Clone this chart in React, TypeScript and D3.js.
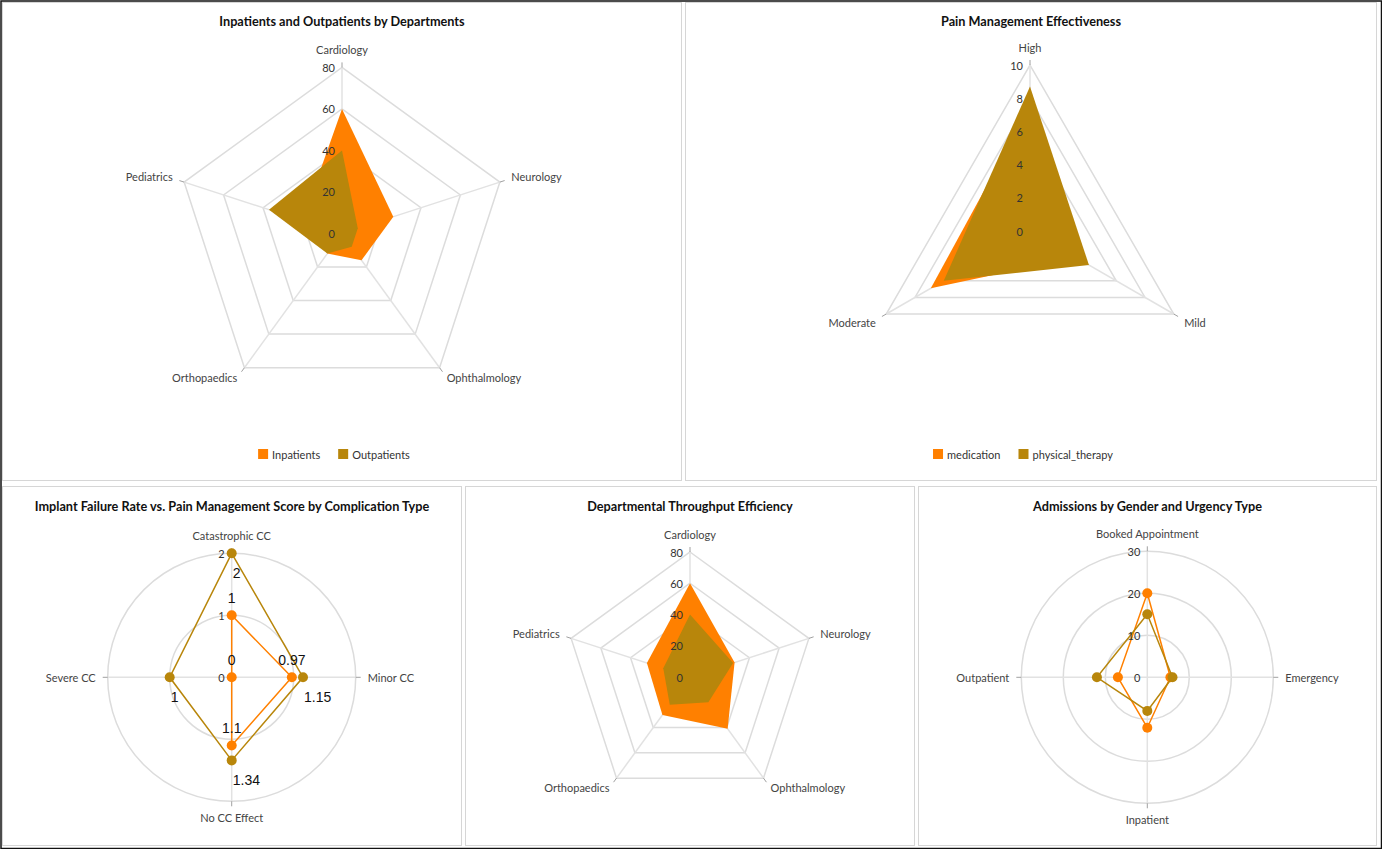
import React, { useEffect, useRef } from 'react';
import * as d3 from 'd3';

const W = 1382;
const H = 849;
const ORANGE = '#ff8000';
const OLIVE = '#b8860b';

// chart 1
const deptAxes = ['Cardiology', 'Neurology', 'Ophthalmology', 'Orthopaedics', 'Pediatrics'];
const inpatients = [60, 26, 16, 12, 20];
const outpatients = [40, 8, 8, 12, 37];
const deptTicks = [0, 20, 40, 60, 80];

// chart 2
const painAxes = ['High', 'Mild', 'Moderate'];
const medication = [7.5, 3.2, 6.9];
const physicalTherapy = [8.7, 4.1, 6.0];
const painTicks = [0, 2, 4, 6, 8, 10];

// chart 3
const complicationAxes = ['Catastrophic CC', 'Minor CC', 'No CC Effect', 'Severe CC'];
const implantFailure = [1, 0.97, 1.1, 0];
const painScore = [2, 1.15, 1.34, 1];
const complicationTicks = [0, 1, 2];

// chart 4
const throughputAxes = ['Cardiology', 'Neurology', 'Ophthalmology', 'Orthopaedics', 'Pediatrics'];
const throughputA = [60, 30, 41, 30, 29];
const throughputB = [40, 29, 20, 22, 18];

// chart 5
const urgencyAxes = ['Booked Appointment', 'Emergency', 'Inpatient', 'Outpatient'];
const admissionsA = [20, 5.5, 12, 7];
const admissionsB = [15, 6, 8, 12];
const urgencyTicks = [0, 10, 20, 30];

const FONT = 'Lato, "Open Sans", sans-serif';

const drawRadar = (root: any, o: any) => {
  const g = root.append('g').attr('transform', `translate(${o.cx},${o.cy})`);
  const n = o.axes.length;
  const ang = (i: number) => (i * 2 * Math.PI) / n;
  const r = d3.scaleLinear().domain([0, o.max]).range([0, o.R]);
  const px = (i: number, v: number) => r(v) * Math.sin(ang(i));
  const py = (i: number, v: number) => -r(v) * Math.cos(ang(i));

  // grid
  o.ticks.filter((t: number) => t > 0).forEach((t: number) => {
    if (o.circular) {
      g.append('circle').attr('r', r(t)).attr('fill', 'none')
        .attr('stroke', '#dcdcdc').attr('stroke-width', 1.5);
    } else {
      const ring = d3.lineRadial<string>()
        .angle((d, i) => ang(i))
        .radius(() => r(t))
        .curve(d3.curveLinearClosed);
      g.append('path').attr('d', ring(o.axes)).attr('fill', 'none')
        .attr('stroke', '#dcdcdc').attr('stroke-width', 1.5);
    }
  });

  // spokes + axis labels
  o.axes.forEach((a: string, i: number) => {
    g.append('line').attr('x1', 0).attr('y1', 0)
      .attr('x2', px(i, o.max)).attr('y2', py(i, o.max))
      .attr('stroke', '#e2e2e2').attr('stroke-width', 1.5);
    const s = Math.sin(ang(i));
    const c = Math.cos(ang(i));
    g.append('line')
      .attr('x1', (o.R) * s).attr('y1', -(o.R) * c)
      .attr('x2', (o.R + 5) * s).attr('y2', -(o.R + 5) * c)
      .attr('stroke', '#a0a0a0').attr('stroke-width', 1);
    const lr = c > 0.99 ? o.R + 13 : o.R + 12;
    const anchor = Math.abs(s) < 0.01 ? 'middle' : s > 0 ? 'start' : 'end';
    const base = c > 0.99 ? 'auto' : c < -0.99 ? 'hanging' : 'central';
    let shift = 0;
    if (base === 'central') {
      if (c > 0.01) shift = -1.5;
      else if (c < -0.01 && c > -0.7) shift = 2;
      else if (Math.abs(c) <= 0.01) shift = 0.5;
    }
    g.append('text')
      .attr('x', lr * s).attr('y', -lr * c + shift)
      .attr('text-anchor', anchor)
      .attr('dominant-baseline', base)
      .attr('font-size', 11).attr('fill', '#444')
      .text(a);
  });

  // series
  o.series.forEach((sr: any) => {
    const line = d3.lineRadial<number>()
      .angle((d, i) => ang(i))
      .radius((d) => r(d))
      .curve(d3.curveLinearClosed);
    if (sr.area) {
      g.append('path').attr('d', line(sr.values)).attr('fill', sr.color);
    } else {
      g.append('path').attr('d', line(sr.values)).attr('fill', 'none')
        .attr('stroke', sr.color).attr('stroke-width', 1.5);
      sr.values.forEach((v: number, i: number) => {
        g.append('circle').attr('cx', px(i, v)).attr('cy', py(i, v))
          .attr('r', 5).attr('fill', sr.color);
      });
    }
  });

  // tick labels
  o.ticks.forEach((t: number) => {
    g.append('text')
      .attr('x', -7).attr('y', -r(t))
      .attr('text-anchor', 'end')
      .attr('dominant-baseline', 'central')
      .attr('font-size', 11).attr('fill', '#333')
      .text(t);
  });

  // data labels
  o.series.forEach((sr: any) => {
    if (!sr.labels) return;
    sr.values.forEach((v: number, i: number) => {
      const x = px(i, v);
      const y = py(i, v);
      g.append('text')
        .attr('x', sr.labels === 'above' ? x : x + 1)
        .attr('y', sr.labels === 'above' ? y - 12 : y + 25)
        .attr('text-anchor', sr.labels === 'above' ? 'middle' : 'start')
        .attr('font-family', '"Liberation Sans", Arial, sans-serif')
        .attr('font-size', 14).attr('fill', '#111')
        .text(v);
    });
  });
};

const drawLegend = (root: any, cx: number, y: number, items: any[]) => {
  const g = root.append('g');
  let x = 0;
  items.forEach((it, k) => {
    g.append('rect').attr('x', x).attr('y', y - 5).attr('width', 10).attr('height', 10)
      .attr('fill', it.color);
    const t = g.append('text').attr('x', x + 14).attr('y', y)
      .attr('dominant-baseline', 'central')
      .attr('font-size', 11).attr('fill', '#333').text(it.name);
    const w = (t.node() as SVGTextElement).getComputedTextLength();
    x += 14 + w + (k < items.length - 1 ? 18 : 0);
  });
  g.attr('transform', `translate(${cx - (x + 16) / 2},0)`);
};

const App = () => {
  const ref = useRef<SVGSVGElement>(null);

  useEffect(() => {
    if (!ref.current) return;
    const svg = d3.select(ref.current);
    svg.selectAll('*').remove();

    svg.append('rect').attr('x', 1).attr('y', 1).attr('width', W - 1.5).attr('height', H - 1.5)
      .attr('fill', '#fff').attr('stroke', '#111').attr('stroke-width', 1.5);

    const panels = [
      { x: 2.5, y: 2.5, w: 679, h: 478 },
      { x: 685.5, y: 2.5, w: 691, h: 478 },
      { x: 2.5, y: 486.5, w: 459, h: 359 },
      { x: 465.5, y: 486.5, w: 449, h: 359 },
      { x: 918.5, y: 486.5, w: 458, h: 359 },
    ];
    panels.forEach((p) => {
      svg.append('rect').attr('x', p.x).attr('y', p.y).attr('width', p.w).attr('height', p.h)
        .attr('fill', '#fff').attr('stroke', '#d6d6d6').attr('stroke-width', 1);
    });

    const titles = [
      { t: 'Inpatients and Outpatients by Departments', x: 342, y: 26 },
      { t: 'Pain Management Effectiveness', x: 1031, y: 26 },
      { t: 'Implant Failure Rate vs. Pain Management Score by Complication Type', x: 232, y: 511 },
      { t: 'Departmental Throughput Efficiency', x: 690, y: 511 },
      { t: 'Admissions by Gender and Urgency Type', x: 1147.5, y: 511 },
    ];
    titles.forEach((d) => {
      svg.append('text').attr('x', d.x).attr('y', d.y).attr('text-anchor', 'middle')
        .attr('font-size', 12.7).attr('font-weight', 'bold').attr('fill', '#111').text(d.t);
    });

    drawRadar(svg, {
      cx: 342, cy: 233.4, R: 166, max: 80, axes: deptAxes, ticks: deptTicks,
      series: [
        { name: 'Inpatients', color: ORANGE, values: inpatients, area: true },
        { name: 'Outpatients', color: OLIVE, values: outpatients, area: true },
      ],
    });
    drawLegend(svg, 342, 454, [
      { name: 'Inpatients', color: ORANGE },
      { name: 'Outpatients', color: OLIVE },
    ]);

    drawRadar(svg, {
      cx: 1030, cy: 231, R: 166, max: 10, axes: painAxes, ticks: painTicks,
      series: [
        { name: 'medication', color: ORANGE, values: medication, area: true },
        { name: 'physical_therapy', color: OLIVE, values: physicalTherapy, area: true },
      ],
    });
    drawLegend(svg, 1031, 454, [
      { name: 'medication', color: ORANGE },
      { name: 'physical_therapy', color: OLIVE },
    ]);

    drawRadar(svg, {
      cx: 231.7, cy: 677.3, R: 124, max: 2, axes: complicationAxes, ticks: complicationTicks,
      circular: true,
      series: [
        { name: 'implant_failure_rate', color: ORANGE, values: implantFailure, labels: 'above' },
        { name: 'pain_management_score', color: OLIVE, values: painScore, labels: 'below' },
      ],
    });

    drawRadar(svg, {
      cx: 690, cy: 677, R: 125, max: 80, axes: throughputAxes, ticks: deptTicks,
      series: [
        { name: 'A', color: ORANGE, values: throughputA, area: true },
        { name: 'B', color: OLIVE, values: throughputB, area: true },
      ],
    });

    drawRadar(svg, {
      cx: 1147.3, cy: 677.3, R: 126, max: 30, axes: urgencyAxes, ticks: urgencyTicks,
      circular: true,
      series: [
        { name: 'Female', color: ORANGE, values: admissionsA },
        { name: 'Male', color: OLIVE, values: admissionsB },
      ],
    });
  }, []);

  return (
    <svg
      ref={ref}
      width={W}
      height={H}
      style={{ position: 'absolute', left: 0, top: 0, fontFamily: FONT }}
    />
  );
};

export default App;
